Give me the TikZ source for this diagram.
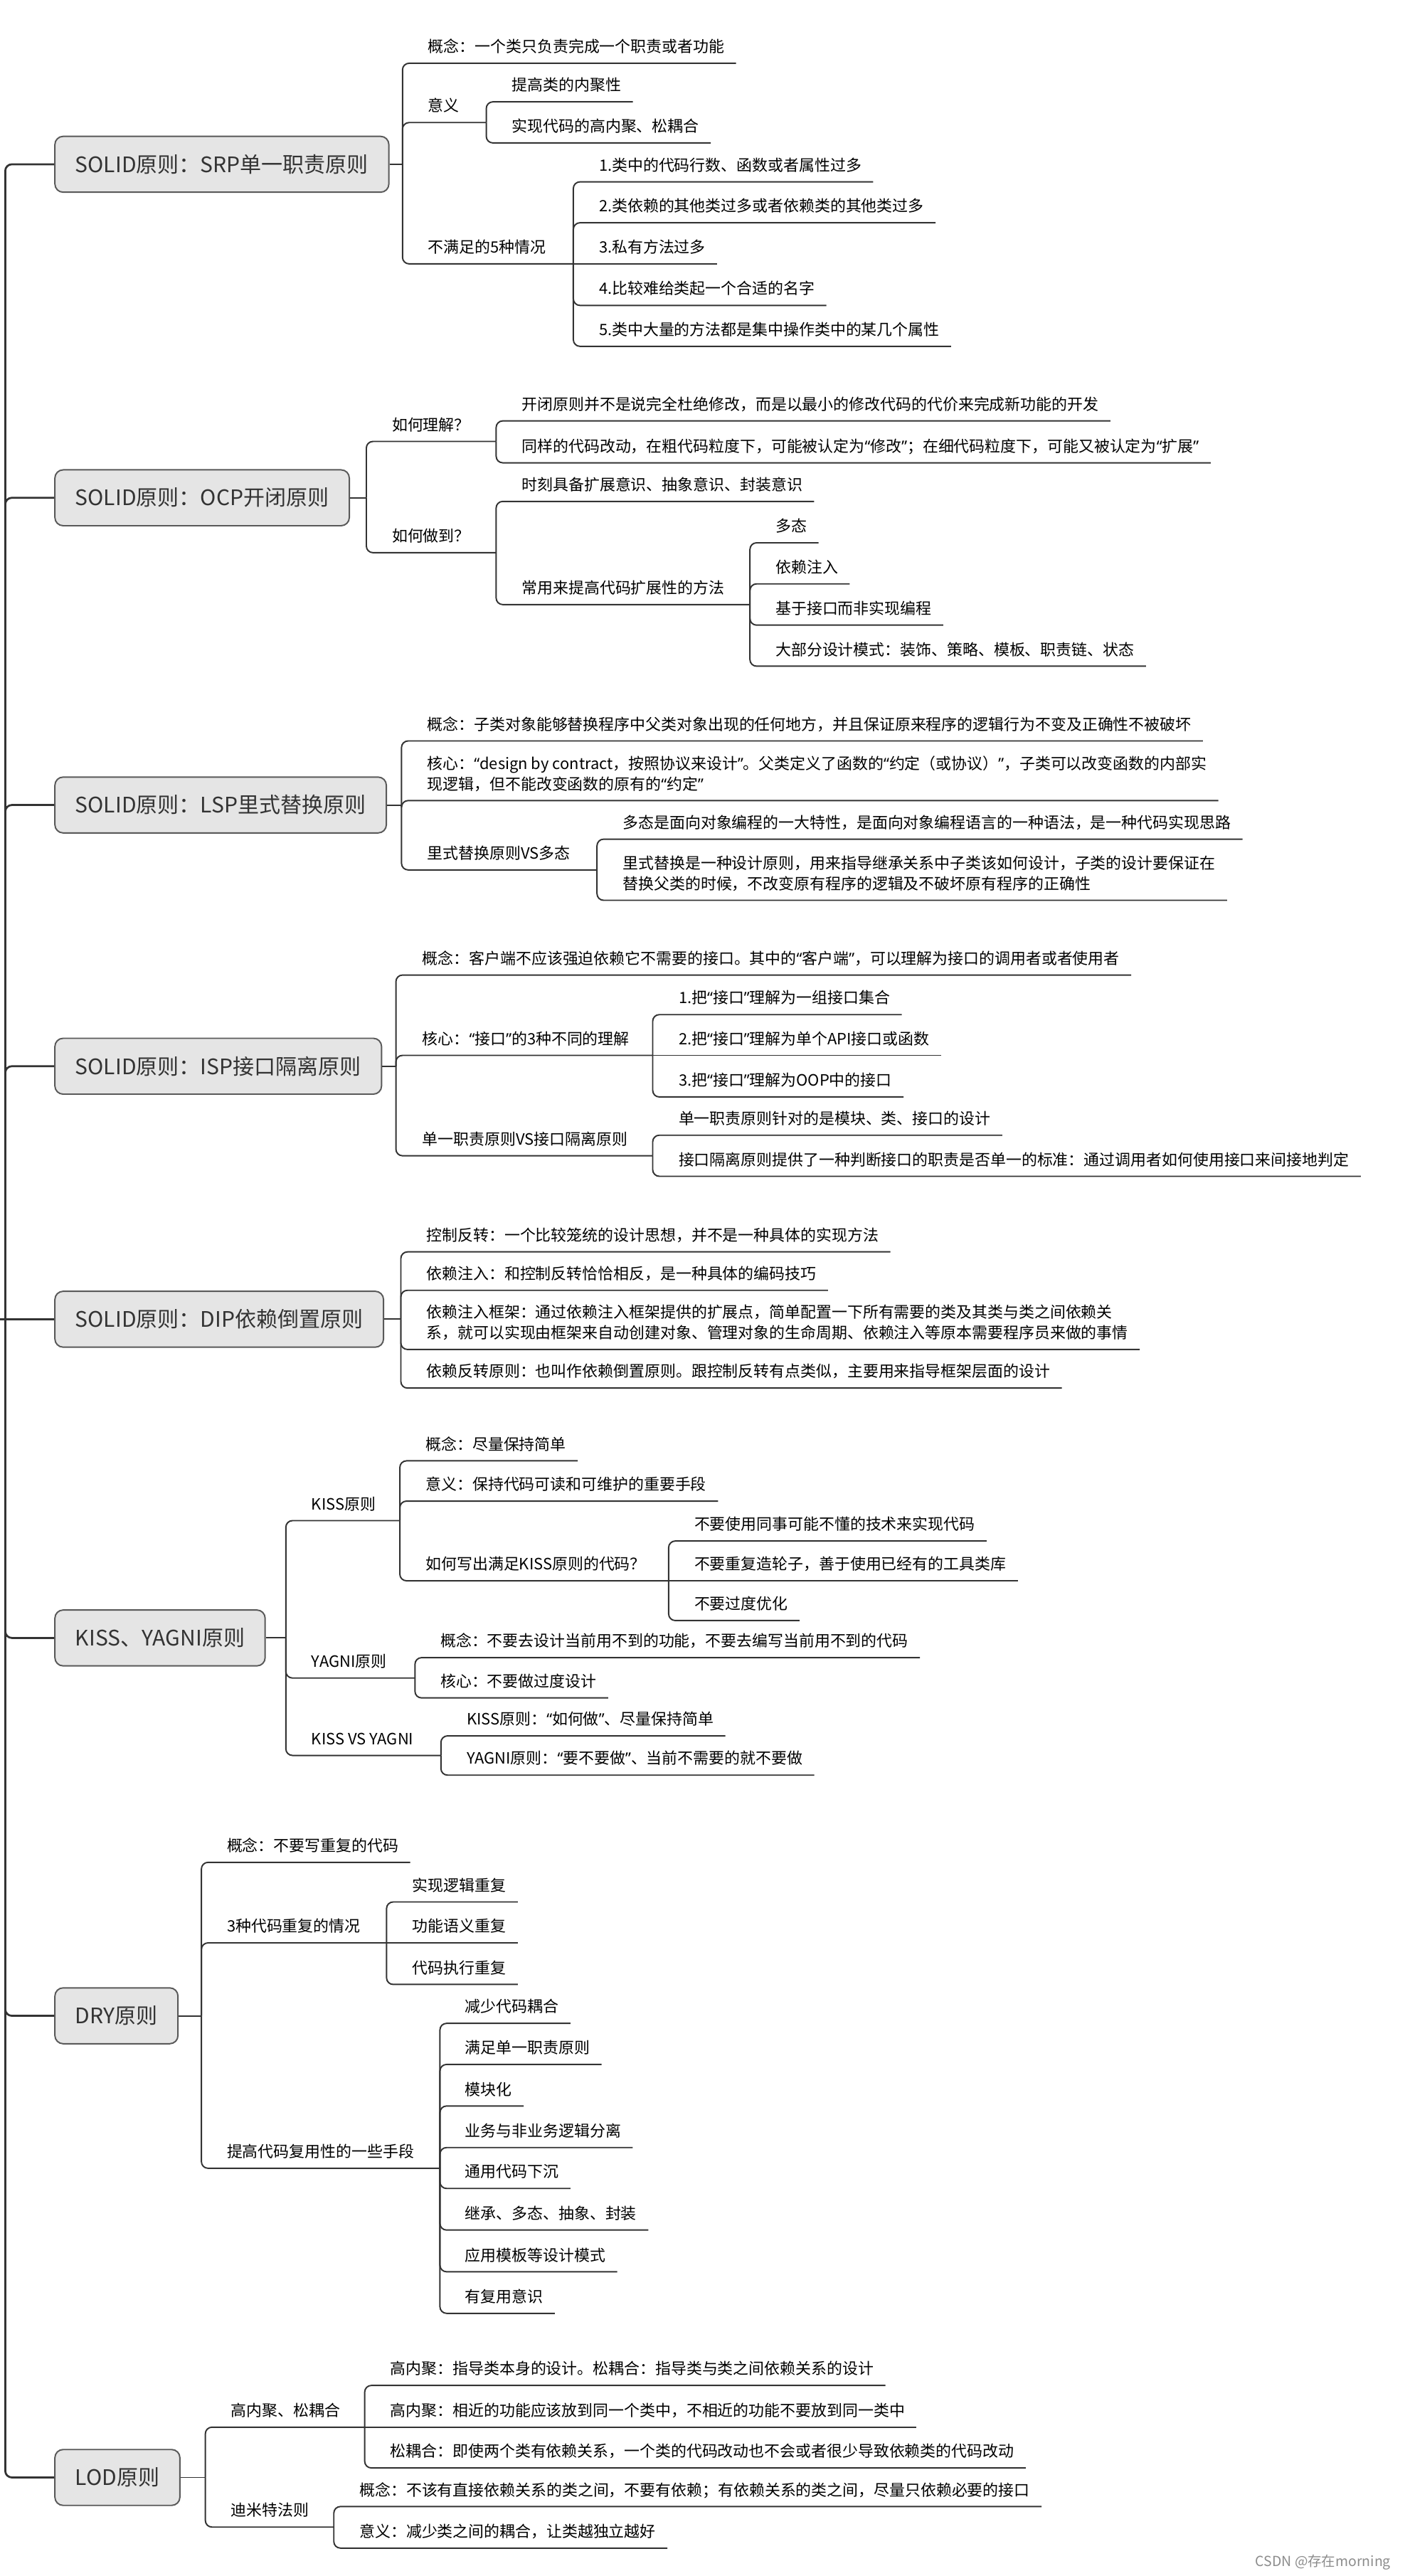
\documentclass[tikz,border=0pt]{standalone}
\usepackage{fontspec}
\setmainfont{Noto Sans CJK SC}
\newfontfamily\quofont{Noto Sans}
\newcommand{\oq}{{\quofont “}}
\newcommand{\cq}{{\quofont ”}}
\newcommand{\lastline}{\rule[-0.325cm]{0pt}{0pt}}
\tikzset{
  link/.style={draw=black!80, line width=1.2pt, rounded corners=0.2cm},
  spine/.style={draw=black!80, line width=1.7pt, rounded corners=0.2cm},
  topic/.style={draw=black!65, fill=black!10, line width=1.2pt, rounded corners=0.25cm, anchor=west, minimum height=1.7cm, inner xsep=0.62cm, text=black!80, font=\fontsize{18.5pt}{22pt}\selectfont},
  leaf/.style={anchor=south west, inner xsep=0.35cm, inner ysep=0pt, text depth=0.325cm, font=\fontsize{13.5pt}{17.6pt}\selectfont},
  leafm/.style={leaf, text depth={}, align=left},
}
\begin{document}
\begin{tikzpicture}[x=0.05cm, y=-0.05cm]
\useasboundingbox (0,0) rectangle (855,1568);
%Main topics
\node[topic] (srp) at (33,100) {SOLID原则：SRP单一职责原则};
\node[topic] (ocp) at (33,303) {SOLID原则：OCP开闭原则};
\node[topic] (lsp) at (33,490) {SOLID原则：LSP里式替换原则};
\node[topic] (isp) at (33,649) {SOLID原则：ISP接口隔离原则};
\node[topic] (dip) at (33,803) {SOLID原则：DIP依赖倒置原则};
\node[topic] (kiss) at (33,997) {KISS、YAGNI原则};
\node[topic] (dry) at (33,1227) {DRY原则};
\node[topic] (lod) at (33,1508) {LOD原则};
%Spine
\coordinate (root) at (0,803);
\coordinate (spn) at (3.2,803);
\draw[spine] (root) -- (spn);
\draw[spine] (spn) |- (srp.west);
\draw[spine] (spn) |- (ocp.west);
\draw[spine] (spn) |- (lsp.west);
\draw[spine] (spn) |- (isp.west);
\draw[spine] (spn) -- (dip.west);
\draw[spine] (spn) |- (kiss.west);
\draw[spine] (spn) |- (dry.west);
\draw[spine] (spn) |- (lod.west);
%SRP
\coordinate (srpf) at (245,100);
\node[leaf] (srp1) at (253.5,38.5) {概念：一个类只负责完成一个职责或者功能};
\node[leaf] (srp2) at (253.5,74.6) {意义};
\coordinate (srp2f) at (296,74.6);
\node[leaf] (srp21) at (304.5,62) {提高类的内聚性};
\node[leaf] (srp22) at (304.5,87) {实现代码的高内聚、松耦合};
\node[leaf] (srp3) at (253.5,160.6) {不满足的5种情况};
\coordinate (srp3f) at (349,160.6);
\node[leaf] (srp31) at (357.5,110.7) {1.类中的代码行数、函数或者属性过多};
\node[leaf] (srp32) at (357.5,135.6) {2.类依赖的其他类过多或者依赖类的其他类过多};
\node[leaf] (srp33) at (357.5,160.6) {3.私有方法过多};
\node[leaf] (srp34) at (357.5,185.9) {4.比较难给类起一个合适的名字};
\node[leaf] (srp35) at (357.5,210.8) {5.类中大量的方法都是集中操作类中的某几个属性};
\draw[link] (srp.east) -- (srpf);
\draw[link] (srpf) |- (srp1.south east);
\draw[link] (srpf) |- (srp2.south east) -- (srp2f);
\draw[link] (srp2f) |- (srp21.south east);
\draw[link] (srp2f) |- (srp22.south east);
\draw[link] (srpf) |- (srp3.south east) -- (srp3f);
\draw[link] (srp3f) |- (srp31.south east);
\draw[link] (srp3f) |- (srp32.south east);
\draw[link] (srp3f) -- (srp33.south east);
\draw[link] (srp3f) |- (srp34.south east);
\draw[link] (srp3f) |- (srp35.south east);
%OCP
\coordinate (ocpf) at (223,303);
\node[leaf] (ocp1) at (231.5,268.7) {如何理解？};
\coordinate (ocp1f) at (302,268.7);
\node[leaf] (ocp11) at (310.5,256.2) {开闭原则并不是说完全杜绝修改，而是以最小的修改代码的代价来完成新功能的开发};
\node[leaf] (ocp12) at (310.5,281.7) {同样的代码改动，在粗代码粒度下，可能被认定为\oq 修改\cq；在细代码粒度下，可能又被认定为\oq 扩展\cq};
\node[leaf] (ocp2) at (231.5,336.4) {如何做到？};
\coordinate (ocp2f) at (302,336.4);
\node[leaf] (ocp21) at (310.5,305.2) {时刻具备扩展意识、抽象意识、封装意识};
\node[leaf] (ocp22) at (310.5,368) {常用来提高代码扩展性的方法};
\coordinate (ocp22f) at (456.5,368);
\node[leaf] (ocp221) at (465,330.4) {多态};
\node[leaf] (ocp222) at (465,355.4) {依赖注入};
\node[leaf] (ocp223) at (465,380.5) {基于接口而非实现编程};
\node[leaf] (ocp224) at (465,405.5) {大部分设计模式：装饰、策略、模板、职责链、状态};
\draw[link] (ocp.east) -- (ocpf);
\draw[link] (ocpf) |- (ocp1.south east) -- (ocp1f);
\draw[link] (ocp1f) |- (ocp11.south east);
\draw[link] (ocp1f) |- (ocp12.south east);
\draw[link] (ocpf) |- (ocp2.south east) -- (ocp2f);
\draw[link] (ocp2f) |- (ocp21.south east);
\draw[link] (ocp2f) |- (ocp22.south east) -- (ocp22f);
\draw[link] (ocp22f) |- (ocp221.south east);
\draw[link] (ocp22f) |- (ocp222.south east);
\draw[link] (ocp22f) |- (ocp223.south east);
\draw[link] (ocp22f) |- (ocp224.south east);
%LSP
\coordinate (lspf) at (244.4,490);
\node[leaf] (lsp1) at (253,451) {概念：子类对象能够替换程序中父类对象出现的任何地方，并且保证原来程序的逻辑行为不变及正确性不被破坏};
\node[leafm] (lsp2) at (253,487.3) {核心：\oq design by contract，按照协议来设计\cq。父类定义了函数的\oq 约定（或协议）\cq，子类可以改变函数的内部实\\现逻辑，但不能改变函数的原有的\oq 约定\cq\lastline};
\node[leaf] (lsp3) at (253,529.5) {里式替换原则VS多态};
\coordinate (lsp3f) at (363.4,529.5);
\node[leaf] (lsp31) at (372,510.8) {多态是面向对象编程的一大特性，是面向对象编程语言的一种语法，是一种代码实现思路};
\node[leafm] (lsp32) at (372,548) {里式替换是一种设计原则，用来指导继承关系中子类该如何设计，子类的设计要保证在\\替换父类的时候，不改变原有程序的逻辑及不破坏原有程序的正确性\lastline};
\draw[link] (lsp.east) -- (lspf);
\draw[link] (lspf) |- (lsp1.south east);
\draw[link] (lspf) |- (lsp2.south east);
\draw[link] (lspf) |- (lsp3.south east) -- (lsp3f);
\draw[link] (lsp3f) |- (lsp31.south east);
\draw[link] (lsp3f) |- (lsp32.south east);
%ISP
\coordinate (ispf) at (241,649);
\node[leaf] (isp1) at (250,593.5) {概念：客户端不应该强迫依赖它不需要的接口。其中的\oq 客户端\cq，可以理解为接口的调用者或者使用者};
\node[leaf] (isp2) at (250,642.4) {核心：\oq 接口\cq 的3种不同的理解};
\coordinate (isp2f) at (397.3,642.4);
\node[leaf] (isp21) at (406,617.6) {1.把\oq 接口\cq 理解为一组接口集合};
\node[leaf] (isp22) at (406,642.4) {2.把\oq 接口\cq 理解为单个API接口或函数};
\node[leaf] (isp23) at (406,667.7) {3.把\oq 接口\cq 理解为OOP中的接口};
\node[leaf] (isp3) at (250,703.5) {单一职责原则VS接口隔离原则};
\coordinate (isp3f) at (397.3,703.5);
\node[leaf] (isp31) at (406,691) {单一职责原则针对的是模块、类、接口的设计};
\node[leaf] (isp32) at (406,716) {接口隔离原则提供了一种判断接口的职责是否单一的标准：通过调用者如何使用接口来间接地判定};
\draw[link] (isp.east) -- (ispf);
\draw[link] (ispf) |- (isp1.south east);
\draw[link] (ispf) |- (isp2.south east) -- (isp2f);
\draw[link] (isp2f) |- (isp21.south east);
\draw[link] (isp2f) -- (isp22.south east);
\draw[link] (isp2f) |- (isp23.south east);
\draw[link] (ispf) |- (isp3.south east) -- (isp3f);
\draw[link] (isp3f) |- (isp31.south east);
\draw[link] (isp3f) |- (isp32.south east);
%DIP
\coordinate (dipf) at (244,803);
\node[leaf] (dip1) at (252.5,762) {控制反转：一个比较笼统的设计思想，并不是一种具体的实现方法};
\node[leaf] (dip2) at (252.5,785.4) {依赖注入：和控制反转恰恰相反，是一种具体的编码技巧};
\node[leafm] (dip3) at (252.5,821.4) {依赖注入框架：通过依赖注入框架提供的扩展点，简单配置一下所有需要的类及其类与类之间依赖关\\系，就可以实现由框架来自动创建对象、管理对象的生命周期、依赖注入等原本需要程序员来做的事情\lastline};
\node[leaf] (dip4) at (252.5,844.9) {依赖反转原则：也叫作依赖倒置原则。跟控制反转有点类似，主要用来指导框架层面的设计};
\draw[link] (dip.east) -- (dipf);
\draw[link] (dipf) |- (dip1.south east);
\draw[link] (dipf) |- (dip2.south east);
\draw[link] (dipf) |- (dip3.south east);
\draw[link] (dipf) |- (dip4.south east);
%KISS, YAGNI
\coordinate (kissf) at (174,997);
\node[leaf] (kiss1) at (182.5,925.6) {KISS原则};
\coordinate (kiss1f) at (243.4,925.6);
\node[leaf] (kiss11) at (252,889.2) {概念：尽量保持简单};
\node[leaf] (kiss12) at (252,913.7) {意义：保持代码可读和可维护的重要手段};
\node[leaf] (kiss13) at (252,962.2) {如何写出满足KISS原则的代码？};
\coordinate (kiss13f) at (407,962.2);
\node[leaf] (kiss131) at (415.5,938) {不要使用同事可能不懂的技术来实现代码};
\node[leaf] (kiss132) at (415.5,962.2) {不要重复造轮子，善于使用已经有的工具类库};
\node[leaf] (kiss133) at (415.5,986.4) {不要过度优化};
\node[leaf] (kiss2) at (182.5,1021.4) {YAGNI原则};
\coordinate (kiss2f) at (252.6,1021.4);
\node[leaf] (kiss21) at (261,1009) {概念：不要去设计当前用不到的功能，不要去编写当前用不到的代码};
\node[leaf] (kiss22) at (261,1033.5) {核心：不要做过度设计};
\node[leaf] (kiss3) at (182.5,1068.5) {KISS VS YAGNI};
\coordinate (kiss3f) at (268.4,1068.5);
\node[leaf] (kiss31) at (277,1056.6) {KISS原则：\oq 如何做\cq、尽量保持简单};
\node[leaf] (kiss32) at (277,1080.5) {YAGNI原则：\oq 要不要做\cq、当前不需要的就不要做};
\draw[link] (kiss.east) -- (kissf);
\draw[link] (kissf) |- (kiss1.south east) -- (kiss1f);
\draw[link] (kiss1f) |- (kiss11.south east);
\draw[link] (kiss1f) |- (kiss12.south east);
\draw[link] (kiss1f) |- (kiss13.south east) -- (kiss13f);
\draw[link] (kiss13f) |- (kiss131.south east);
\draw[link] (kiss13f) -- (kiss132.south east);
\draw[link] (kiss13f) |- (kiss133.south east);
\draw[link] (kissf) |- (kiss2.south east) -- (kiss2f);
\draw[link] (kiss2f) |- (kiss21.south east);
\draw[link] (kiss2f) |- (kiss22.south east);
\draw[link] (kissf) |- (kiss3.south east) -- (kiss3f);
\draw[link] (kiss3f) |- (kiss31.south east);
\draw[link] (kiss3f) |- (kiss32.south east);
%DRY
\coordinate (dryf) at (122.6,1227);
\node[leaf] (dry1) at (131,1133.6) {概念：不要写重复的代码};
\node[leaf] (dry2) at (131,1182.6) {3种代码重复的情况};
\coordinate (dry2f) at (235.3,1182.6);
\node[leaf] (dry21) at (244,1157.7) {实现逻辑重复};
\node[leaf] (dry22) at (244,1182.6) {功能语义重复};
\node[leaf] (dry23) at (244,1207.9) {代码执行重复};
\node[leaf] (dry3) at (131,1319.8) {提高代码复用性的一些手段};
\coordinate (dry3f) at (267.8,1319.8);
\node[leaf] (dry31) at (276,1231.6) {减少代码耦合};
\node[leaf] (dry32) at (276,1256.6) {满足单一职责原则};
\node[leaf] (dry33) at (276,1281.9) {模块化};
\node[leaf] (dry34) at (276,1307.2) {业务与非业务逻辑分离};
\node[leaf] (dry35) at (276,1332.1) {通用代码下沉};
\node[leaf] (dry36) at (276,1357.4) {继承、多态、抽象、封装};
\node[leaf] (dry37) at (276,1382.8) {应用模板等设计模式};
\node[leaf] (dry38) at (276,1408.1) {有复用意识};
\draw[link] (dry.east) -- (dryf);
\draw[link] (dryf) |- (dry1.south east);
\draw[link] (dryf) |- (dry2.south east) -- (dry2f);
\draw[link] (dry2f) |- (dry21.south east);
\draw[link] (dry2f) -- (dry22.south east);
\draw[link] (dry2f) |- (dry23.south east);
\draw[link] (dryf) |- (dry3.south east) -- (dry3f);
\draw[link] (dry3f) |- (dry31.south east);
\draw[link] (dry3f) |- (dry32.south east);
\draw[link] (dry3f) |- (dry33.south east);
\draw[link] (dry3f) |- (dry34.south east);
\draw[link] (dry3f) |- (dry35.south east);
\draw[link] (dry3f) |- (dry36.south east);
\draw[link] (dry3f) |- (dry37.south east);
\draw[link] (dry3f) |- (dry38.south east);
%LOD
\coordinate (lodf) at (125,1508);
\node[leaf] (lod1) at (133.5,1477.4) {高内聚、松耦合};
\coordinate (lod1f) at (222,1477.4);
\node[leaf] (lod11) at (230.5,1452) {高内聚：指导类本身的设计。松耦合：指导类与类之间依赖关系的设计};
\node[leaf] (lod12) at (230.5,1477.4) {高内聚：相近的功能应该放到同一个类中，不相近的功能不要放到同一类中};
\node[leaf] (lod13) at (230.5,1502.2) {松耦合：即使两个类有依赖关系，一个类的代码改动也不会或者很少导致依赖类的代码改动};
\node[leaf] (lod2) at (133.5,1538.2) {迪米特法则};
\coordinate (lod2f) at (203.2,1538.2);
\node[leaf] (lod21) at (211.7,1525.7) {概念：不该有直接依赖关系的类之间，不要有依赖；有依赖关系的类之间，尽量只依赖必要的接口};
\node[leaf] (lod22) at (211.7,1551) {意义：减少类之间的耦合，让类越独立越好};
\draw[link] (lod.east) -- (lodf);
\draw[link] (lodf) |- (lod1.south east) -- (lod1f);
\draw[link] (lod1f) |- (lod11.south east);
\draw[link] (lod1f) -- (lod12.south east);
\draw[link] (lod1f) |- (lod13.south east);
\draw[link] (lodf) |- (lod2.south east) -- (lod2f);
\draw[link] (lod2f) |- (lod21.south east);
\draw[link] (lod2f) |- (lod22.south east);
%Watermark
\node[anchor=east, text=black!45, font=\fontsize{12pt}{14pt}\selectfont] (mark) at (849,1559.5) {CSDN @存在morning};
\end{tikzpicture}
\end{document}
